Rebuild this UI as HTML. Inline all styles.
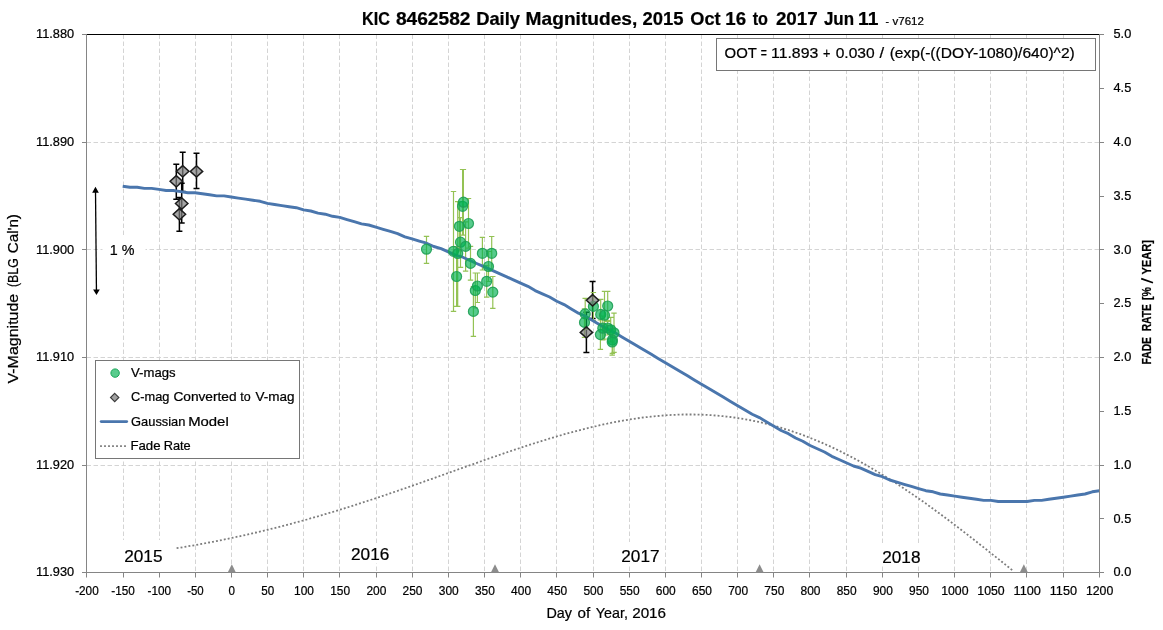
<!DOCTYPE html><html><head><meta charset="utf-8"><style>html,body{margin:0;padding:0;background:#fff}body{width:1163px;height:630px;overflow:hidden}svg{will-change:transform}text{stroke:#000;stroke-width:.22px}</style></head><body><svg width="1163" height="630" viewBox="0 0 1163 630" style="display:block;font-family:'Liberation Sans',sans-serif">
<rect width="1163" height="630" fill="#fff"/>
<path d="M123.50 34.5V572.5M159.50 34.5V572.5M195.50 34.5V572.5M231.50 34.5V572.5M267.50 34.5V572.5M303.50 34.5V572.5M339.50 34.5V572.5M376.50 34.5V572.5M412.50 34.5V572.5M448.50 34.5V572.5M484.50 34.5V572.5M520.50 34.5V572.5M556.50 34.5V572.5M593.50 34.5V572.5M629.50 34.5V572.5M665.50 34.5V572.5M701.50 34.5V572.5M737.50 34.5V572.5M773.50 34.5V572.5M809.50 34.5V572.5M846.50 34.5V572.5M882.50 34.5V572.5M918.50 34.5V572.5M954.50 34.5V572.5M990.50 34.5V572.5M1026.50 34.5V572.5M1063.50 34.5V572.5M86.5 142.50H1099.5M86.5 249.50H1099.5M86.5 357.50H1099.5M86.5 465.50H1099.5" stroke="#d4d4d4" stroke-width="1" stroke-dasharray="4.5 2.5" fill="none"/>
<path d="M176.6 548.2 L180.2 547.7 L183.8 547.0 L187.4 546.4 L191.1 545.8 L194.7 545.2 L198.3 544.5 L201.9 543.8 L205.5 543.2 L209.1 542.5 L212.8 541.8 L216.4 541.1 L220.0 540.4 L223.6 539.6 L227.2 538.9 L230.9 538.1 L234.5 537.3 L238.1 536.6 L241.7 535.8 L245.3 535.0 L248.9 534.2 L252.6 533.3 L256.2 532.5 L259.8 531.6 L263.4 530.8 L267.0 529.9 L270.6 529.0 L274.3 528.1 L277.9 527.2 L281.5 526.3 L285.1 525.3 L288.7 524.4 L292.4 523.4 L296.0 522.4 L299.6 521.5 L303.2 520.5 L306.8 519.5 L310.4 518.4 L314.1 517.4 L317.7 516.4 L321.3 515.3 L324.9 514.2 L328.5 513.2 L332.2 512.1 L335.8 511.0 L339.4 509.9 L343.0 508.8 L346.6 507.6 L350.2 506.5 L353.9 505.4 L357.5 504.2 L361.1 503.0 L364.7 501.9 L368.3 500.7 L371.9 499.5 L375.6 498.3 L379.2 497.1 L382.8 495.9 L386.4 494.7 L390.0 493.4 L393.7 492.2 L397.3 491.0 L400.9 489.7 L404.5 488.5 L408.1 487.2 L411.7 485.9 L415.4 484.7 L419.0 483.4 L422.6 482.1 L426.2 480.8 L429.8 479.6 L433.5 478.3 L437.1 477.0 L440.7 475.7 L444.3 474.4 L447.9 473.1 L451.5 471.8 L455.2 470.5 L458.8 469.2 L462.4 467.9 L466.0 466.7 L469.6 465.4 L473.2 464.1 L476.9 462.8 L480.5 461.5 L484.1 460.2 L487.7 459.0 L491.3 457.7 L495.0 456.5 L498.6 455.2 L502.2 454.0 L505.8 452.7 L509.4 451.5 L513.0 450.3 L516.7 449.1 L520.3 447.9 L523.9 446.7 L527.5 445.5 L531.1 444.3 L534.8 443.2 L538.4 442.0 L542.0 440.9 L545.6 439.8 L549.2 438.7 L552.8 437.6 L556.5 436.5 L560.1 435.5 L563.7 434.4 L567.3 433.4 L570.9 432.4 L574.5 431.5 L578.2 430.5 L581.8 429.6 L585.4 428.7 L589.0 427.8 L592.6 426.9 L596.3 426.1 L599.9 425.2 L603.5 424.4 L607.1 423.7 L610.7 422.9 L614.3 422.2 L618.0 421.5 L621.6 420.9 L625.2 420.2 L628.8 419.6 L632.4 419.1 L636.1 418.5 L639.7 418.0 L643.3 417.5 L646.9 417.1 L650.5 416.7 L654.1 416.3 L657.8 416.0 L661.4 415.6 L665.0 415.4 L668.6 415.1 L672.2 414.9 L675.8 414.8 L679.5 414.6 L683.1 414.5 L686.7 414.5 L690.3 414.5 L693.9 414.5 L697.6 414.6 L701.2 414.7 L704.8 414.8 L708.4 415.0 L712.0 415.2 L715.6 415.5 L719.3 415.8 L722.9 416.2 L726.5 416.6 L730.1 417.0 L733.7 417.5 L737.4 418.0 L741.0 418.6 L744.6 419.2 L748.2 419.8 L751.8 420.5 L755.4 421.3 L759.1 422.0 L762.7 422.9 L766.3 423.8 L769.9 424.7 L773.5 425.6 L777.1 426.6 L780.8 427.7 L784.4 428.8 L788.0 429.9 L791.6 431.1 L795.2 432.4 L798.9 433.6 L802.5 434.9 L806.1 436.3 L809.7 437.7 L813.3 439.2 L816.9 440.6 L820.6 442.2 L824.2 443.8 L827.8 445.4 L831.4 447.0 L835.0 448.7 L838.7 450.5 L842.3 452.3 L845.9 454.1 L849.5 456.0 L853.1 457.9 L856.7 459.8 L860.4 461.8 L864.0 463.8 L867.6 465.9 L871.2 468.0 L874.8 470.1 L878.4 472.3 L882.1 474.5 L885.7 476.7 L889.3 479.0 L892.9 481.3 L896.5 483.6 L900.2 486.0 L903.8 488.4 L907.4 490.8 L911.0 493.2 L914.6 495.7 L918.2 498.2 L921.9 500.8 L925.5 503.3 L929.1 505.9 L932.7 508.5 L936.3 511.2 L940.0 513.8 L943.6 516.5 L947.2 519.2 L950.8 521.9 L954.4 524.7 L958.0 527.4 L961.7 530.2 L965.3 533.0 L968.9 535.8 L972.5 538.6 L976.1 541.4 L979.7 544.3 L983.4 547.1 L987.0 550.0 L990.6 552.9 L994.2 555.7 L997.8 558.6 L1001.5 561.5 L1005.1 564.4 L1008.7 567.3 L1012.3 570.2" stroke="#7c7c7c" stroke-width="1.8" stroke-dasharray="1.9 2.1" fill="none"/>
<path d="M176.3 164.3V199.3M173.3 164.3h6M173.3 199.3h6M182.7 152.2V191.5M179.7 152.2h6M179.7 191.5h6M196.5 153.3V188.4M193.5 153.3h6M193.5 188.4h6M181.7 183.2V223.0M178.7 183.2h6M178.7 223.0h6M179.4 197.5V231.3M176.4 197.5h6M176.4 231.3h6M592.6 281.4V318.5M589.6 281.4h6M589.6 318.5h6M586.4 312.3V352.4M583.4 312.3h6M583.4 352.4h6" stroke="#000" stroke-width="1.5" fill="none"/>
<path d="M426.5 236.4V263.3M423.8 236.4h5.4M423.8 263.3h5.4M453.5 191.5V311.4M450.8 191.5h5.4M450.8 311.4h5.4M457.7 201.6V306.3M455.0 201.6h5.4M455.0 306.3h5.4M456.6 246.7V306.3M453.9 246.7h5.4M453.9 306.3h5.4M459.4 201.6V251.0M456.7 201.6h5.4M456.7 251.0h5.4M460.5 217.6V267.3M457.8 217.6h5.4M457.8 267.3h5.4M462.6 169.5V235.2M459.9 169.5h5.4M459.9 235.2h5.4M463.4 169.5V235.2M460.7 169.5h5.4M460.7 235.2h5.4M465.6 221.8V271.1M462.9 221.8h5.4M462.9 271.1h5.4M468.5 198.5V248.2M465.8 198.5h5.4M465.8 248.2h5.4M470.5 246.3V280.2M467.8 246.3h5.4M467.8 280.2h5.4M473.4 286.5V336.3M470.7 286.5h5.4M470.7 336.3h5.4M475.3 273.0V308.0M472.6 273.0h5.4M472.6 308.0h5.4M477.4 273.0V302.5M474.7 273.0h5.4M474.7 302.5h5.4M482.4 237.3V270.0M479.7 237.3h5.4M479.7 270.0h5.4M486.7 265.5V297.1M484.0 265.5h5.4M484.0 297.1h5.4M488.5 251.5V281.5M485.8 251.5h5.4M485.8 281.5h5.4M491.7 236.5V270.5M489.0 236.5h5.4M489.0 270.5h5.4M492.8 276.5V308.3M490.1 276.5h5.4M490.1 308.3h5.4M585.2 298.3V329.5M582.5 298.3h5.4M582.5 329.5h5.4M584.5 308.8V337.3M581.8 308.8h5.4M581.8 337.3h5.4M593.4 292.5V320.5M590.7 292.5h5.4M590.7 320.5h5.4M607.7 291.3V320.7M605.0 291.3h5.4M605.0 320.7h5.4M600.7 299.3V329.5M598.0 299.3h5.4M598.0 329.5h5.4M604.5 291.3V339.0M601.8 291.3h5.4M601.8 339.0h5.4M600.4 320.0V349.3M597.7 320.0h5.4M597.7 349.3h5.4M602.8 316.0V340.0M600.1 316.0h5.4M600.1 340.0h5.4M607.6 321.4V335.0M604.9 321.4h5.4M604.9 335.0h5.4M610.7 317.4V342.0M608.0 317.4h5.4M608.0 342.0h5.4M614.0 313.2V352.4M611.3 313.2h5.4M611.3 352.4h5.4M612.4 326.0V353.3M609.7 326.0h5.4M609.7 353.3h5.4M612.2 329.0V355.2M609.5 329.0h5.4M609.5 355.2h5.4" stroke="#94c254" stroke-width="1.2" fill="none"/>
<path d="M122.7 186.2 L129.9 187.3 L137.2 187.3 L144.4 188.4 L151.6 188.4 L158.9 189.4 L166.1 190.5 L173.3 190.5 L180.6 191.6 L187.8 192.7 L195.0 192.7 L202.3 193.7 L209.5 194.8 L216.7 195.9 L224.0 195.9 L231.2 197.0 L238.4 198.1 L245.7 199.1 L252.9 200.2 L260.2 201.3 L267.4 203.4 L274.6 204.5 L281.9 205.6 L289.1 206.7 L296.3 207.7 L303.6 209.9 L310.8 211.0 L318.0 213.1 L325.3 214.2 L332.5 216.3 L339.8 217.4 L347.0 219.6 L354.2 221.7 L361.5 223.9 L368.7 225.0 L375.9 227.1 L383.2 229.3 L390.4 231.4 L397.6 233.6 L404.9 236.8 L412.1 238.9 L419.3 241.1 L426.6 243.2 L433.8 246.5 L441.1 248.6 L448.3 251.9 L455.5 255.1 L462.8 257.2 L470.0 260.5 L477.2 263.7 L484.5 266.9 L491.7 270.1 L498.9 273.4 L506.2 276.6 L513.4 279.8 L520.6 283.1 L527.9 286.3 L535.1 290.6 L542.4 293.8 L549.6 297.0 L556.8 301.3 L564.1 304.6 L571.3 308.9 L578.5 313.2 L585.8 316.4 L593.0 320.7 L600.2 325.0 L607.5 329.3 L614.7 332.6 L621.9 336.9 L629.2 341.2 L636.4 345.5 L643.6 349.8 L650.9 354.1 L658.1 358.4 L665.4 362.7 L672.6 367.0 L679.8 371.3 L687.1 375.6 L694.3 379.9 L701.5 384.2 L708.8 388.5 L716.0 392.8 L723.2 397.1 L730.5 401.4 L737.7 405.7 L745.0 410.0 L752.2 414.3 L759.4 417.6 L766.7 421.9 L773.9 426.2 L781.1 430.5 L788.4 433.7 L795.6 438.0 L802.8 441.2 L810.1 445.5 L817.3 448.8 L824.5 452.0 L831.8 456.3 L839.0 459.5 L846.2 462.7 L853.5 466.0 L860.7 468.1 L868.0 471.4 L875.2 474.6 L882.4 476.7 L889.7 480.0 L896.9 482.1 L904.1 484.3 L911.4 486.4 L918.6 488.6 L925.8 490.7 L933.1 491.8 L940.3 494.0 L947.5 495.0 L954.8 496.1 L962.0 497.2 L969.3 498.3 L976.5 499.3 L983.7 500.4 L991.0 500.4 L998.2 501.5 L1005.4 501.5 L1012.7 501.5 L1019.9 501.5 L1027.1 501.5 L1034.4 500.4 L1041.6 500.4 L1048.8 499.3 L1056.1 498.3 L1063.3 497.2 L1070.6 496.1 L1077.8 495.0 L1085.0 494.0 L1092.3 491.8 L1099.5 490.7" stroke="#4a76ad" stroke-width="2.9" fill="none" stroke-linejoin="round"/>
<circle cx="426.5" cy="249.2" r="5.0" fill="#00b050" fill-opacity="0.66" stroke="#1e9e55" stroke-opacity="0.9" stroke-width="1.2"/>
<circle cx="453.5" cy="251.3" r="5.0" fill="#00b050" fill-opacity="0.66" stroke="#1e9e55" stroke-opacity="0.9" stroke-width="1.2"/>
<circle cx="457.7" cy="253.5" r="5.0" fill="#00b050" fill-opacity="0.66" stroke="#1e9e55" stroke-opacity="0.9" stroke-width="1.2"/>
<circle cx="456.6" cy="276.5" r="5.0" fill="#00b050" fill-opacity="0.66" stroke="#1e9e55" stroke-opacity="0.9" stroke-width="1.2"/>
<circle cx="459.4" cy="226.3" r="5.0" fill="#00b050" fill-opacity="0.66" stroke="#1e9e55" stroke-opacity="0.9" stroke-width="1.2"/>
<circle cx="460.5" cy="242.2" r="5.0" fill="#00b050" fill-opacity="0.66" stroke="#1e9e55" stroke-opacity="0.9" stroke-width="1.2"/>
<circle cx="462.6" cy="206.3" r="5.0" fill="#00b050" fill-opacity="0.66" stroke="#1e9e55" stroke-opacity="0.9" stroke-width="1.2"/>
<circle cx="463.4" cy="202.2" r="5.0" fill="#00b050" fill-opacity="0.66" stroke="#1e9e55" stroke-opacity="0.9" stroke-width="1.2"/>
<circle cx="465.6" cy="246.4" r="5.0" fill="#00b050" fill-opacity="0.66" stroke="#1e9e55" stroke-opacity="0.9" stroke-width="1.2"/>
<circle cx="468.5" cy="223.5" r="5.0" fill="#00b050" fill-opacity="0.66" stroke="#1e9e55" stroke-opacity="0.9" stroke-width="1.2"/>
<circle cx="470.5" cy="263.4" r="5.0" fill="#00b050" fill-opacity="0.66" stroke="#1e9e55" stroke-opacity="0.9" stroke-width="1.2"/>
<circle cx="473.4" cy="311.4" r="5.0" fill="#00b050" fill-opacity="0.66" stroke="#1e9e55" stroke-opacity="0.9" stroke-width="1.2"/>
<circle cx="475.3" cy="290.5" r="5.0" fill="#00b050" fill-opacity="0.66" stroke="#1e9e55" stroke-opacity="0.9" stroke-width="1.2"/>
<circle cx="477.4" cy="286.0" r="5.0" fill="#00b050" fill-opacity="0.66" stroke="#1e9e55" stroke-opacity="0.9" stroke-width="1.2"/>
<circle cx="482.4" cy="253.3" r="5.0" fill="#00b050" fill-opacity="0.66" stroke="#1e9e55" stroke-opacity="0.9" stroke-width="1.2"/>
<circle cx="486.7" cy="281.3" r="5.0" fill="#00b050" fill-opacity="0.66" stroke="#1e9e55" stroke-opacity="0.9" stroke-width="1.2"/>
<circle cx="488.5" cy="266.5" r="5.0" fill="#00b050" fill-opacity="0.66" stroke="#1e9e55" stroke-opacity="0.9" stroke-width="1.2"/>
<circle cx="491.7" cy="253.3" r="5.0" fill="#00b050" fill-opacity="0.66" stroke="#1e9e55" stroke-opacity="0.9" stroke-width="1.2"/>
<circle cx="492.8" cy="292.1" r="5.0" fill="#00b050" fill-opacity="0.66" stroke="#1e9e55" stroke-opacity="0.9" stroke-width="1.2"/>
<circle cx="585.2" cy="313.9" r="5.0" fill="#00b050" fill-opacity="0.66" stroke="#1e9e55" stroke-opacity="0.9" stroke-width="1.2"/>
<circle cx="584.5" cy="322.4" r="5.0" fill="#00b050" fill-opacity="0.66" stroke="#1e9e55" stroke-opacity="0.9" stroke-width="1.2"/>
<circle cx="593.4" cy="306.4" r="5.0" fill="#00b050" fill-opacity="0.66" stroke="#1e9e55" stroke-opacity="0.9" stroke-width="1.2"/>
<circle cx="607.7" cy="306.0" r="5.0" fill="#00b050" fill-opacity="0.66" stroke="#1e9e55" stroke-opacity="0.9" stroke-width="1.2"/>
<circle cx="600.7" cy="314.4" r="5.0" fill="#00b050" fill-opacity="0.66" stroke="#1e9e55" stroke-opacity="0.9" stroke-width="1.2"/>
<circle cx="604.5" cy="315.2" r="5.0" fill="#00b050" fill-opacity="0.66" stroke="#1e9e55" stroke-opacity="0.9" stroke-width="1.2"/>
<circle cx="600.4" cy="334.6" r="5.0" fill="#00b050" fill-opacity="0.66" stroke="#1e9e55" stroke-opacity="0.9" stroke-width="1.2"/>
<circle cx="602.8" cy="328.2" r="5.0" fill="#00b050" fill-opacity="0.66" stroke="#1e9e55" stroke-opacity="0.9" stroke-width="1.2"/>
<circle cx="607.6" cy="328.0" r="5.0" fill="#00b050" fill-opacity="0.66" stroke="#1e9e55" stroke-opacity="0.9" stroke-width="1.2"/>
<circle cx="610.7" cy="329.8" r="5.0" fill="#00b050" fill-opacity="0.66" stroke="#1e9e55" stroke-opacity="0.9" stroke-width="1.2"/>
<circle cx="614.0" cy="332.8" r="5.0" fill="#00b050" fill-opacity="0.66" stroke="#1e9e55" stroke-opacity="0.9" stroke-width="1.2"/>
<circle cx="612.4" cy="340.0" r="5.0" fill="#00b050" fill-opacity="0.66" stroke="#1e9e55" stroke-opacity="0.9" stroke-width="1.2"/>
<circle cx="612.2" cy="342.0" r="5.0" fill="#00b050" fill-opacity="0.66" stroke="#1e9e55" stroke-opacity="0.9" stroke-width="1.2"/>
<path d="M176.3 175.6l6.2 5.7l-6.2 5.7l-6.2 -5.7z" fill="#7f7f7f" fill-opacity="0.7" stroke="#1c1c1c" stroke-width="1.5"/>
<path d="M182.7 165.6l6.2 5.7l-6.2 5.7l-6.2 -5.7z" fill="#7f7f7f" fill-opacity="0.7" stroke="#1c1c1c" stroke-width="1.5"/>
<path d="M196.5 165.7l6.2 5.7l-6.2 5.7l-6.2 -5.7z" fill="#7f7f7f" fill-opacity="0.7" stroke="#1c1c1c" stroke-width="1.5"/>
<path d="M181.7 197.8l6.2 5.7l-6.2 5.7l-6.2 -5.7z" fill="#7f7f7f" fill-opacity="0.7" stroke="#1c1c1c" stroke-width="1.5"/>
<path d="M179.4 208.6l6.2 5.7l-6.2 5.7l-6.2 -5.7z" fill="#7f7f7f" fill-opacity="0.7" stroke="#1c1c1c" stroke-width="1.5"/>
<path d="M592.6 294.6l6.2 5.7l-6.2 5.7l-6.2 -5.7z" fill="#7f7f7f" fill-opacity="0.7" stroke="#1c1c1c" stroke-width="1.5"/>
<path d="M586.4 326.7l6.2 5.7l-6.2 5.7l-6.2 -5.7z" fill="#7f7f7f" fill-opacity="0.7" stroke="#1c1c1c" stroke-width="1.5"/>
<path d="M86.5 34.5H1099.5" stroke="#000" stroke-width="1"/>
<path d="M86.5 34.5V577.0M1099.5 34.5V572.5M82.0 572.5H1099.5M82.0 34.5H86.5M82.0 142.5H86.5M82.0 249.5H86.5M82.0 357.5H86.5M82.0 465.5H86.5M82.0 572.5H86.5M1099.5 34.5H1104.0M1099.5 88.5H1104.0M1099.5 142.5H1104.0M1099.5 196.5H1104.0M1099.5 249.5H1104.0M1099.5 303.5H1104.0M1099.5 357.5H1104.0M1099.5 411.5H1104.0M1099.5 465.5H1104.0M1099.5 518.5H1104.0M1099.5 572.5H1104.0M86.50 572.5V577.5M123.50 572.5V577.5M159.50 572.5V577.5M195.50 572.5V577.5M231.50 572.5V577.5M267.50 572.5V577.5M303.50 572.5V577.5M339.50 572.5V577.5M376.50 572.5V577.5M412.50 572.5V577.5M448.50 572.5V577.5M484.50 572.5V577.5M520.50 572.5V577.5M556.50 572.5V577.5M593.50 572.5V577.5M629.50 572.5V577.5M665.50 572.5V577.5M701.50 572.5V577.5M737.50 572.5V577.5M773.50 572.5V577.5M809.50 572.5V577.5M846.50 572.5V577.5M882.50 572.5V577.5M918.50 572.5V577.5M954.50 572.5V577.5M990.50 572.5V577.5M1026.50 572.5V577.5M1063.50 572.5V577.5M1099.50 572.5V577.5" stroke="#858585" stroke-width="1" fill="none"/>
<path d="M231.80 564.3l4.1 8.2h-8.2z" fill="#8c8c8c"/>
<path d="M495.00 564.3l4.1 8.2h-8.2z" fill="#8c8c8c"/>
<path d="M759.60 564.3l4.1 8.2h-8.2z" fill="#8c8c8c"/>
<path d="M1023.85 564.3l4.1 8.2h-8.2z" fill="#8c8c8c"/>
<text x="361.99" y="24.8" font-size="17.7" text-anchor="start" font-weight="bold" textLength="27.81" lengthAdjust="spacingAndGlyphs" >KIC</text>
<text x="395.90" y="24.8" font-size="17.7" text-anchor="start" font-weight="bold" textLength="74.62" lengthAdjust="spacingAndGlyphs" >8462582</text>
<text x="476.16" y="24.8" font-size="17.7" text-anchor="start" font-weight="bold" textLength="43.87" lengthAdjust="spacingAndGlyphs" >Daily</text>
<text x="525.62" y="24.8" font-size="17.7" text-anchor="start" font-weight="bold" textLength="111.67" lengthAdjust="spacingAndGlyphs" >Magnitudes,</text>
<text x="642.60" y="24.8" font-size="17.7" text-anchor="start" font-weight="bold" textLength="41.03" lengthAdjust="spacingAndGlyphs" >2015</text>
<text x="690.30" y="24.8" font-size="17.7" text-anchor="start" font-weight="bold" textLength="30.29" lengthAdjust="spacingAndGlyphs" >Oct</text>
<text x="725.34" y="24.8" font-size="17.7" text-anchor="start" font-weight="bold" textLength="20.78" lengthAdjust="spacingAndGlyphs" >16</text>
<text x="752.70" y="24.8" font-size="17.7" text-anchor="start" font-weight="bold" textLength="15.32" lengthAdjust="spacingAndGlyphs" >to</text>
<text x="775.90" y="24.8" font-size="17.7" text-anchor="start" font-weight="bold" textLength="41.93" lengthAdjust="spacingAndGlyphs" >2017</text>
<text x="823.90" y="24.8" font-size="17.7" text-anchor="start" font-weight="bold" textLength="30.17" lengthAdjust="spacingAndGlyphs" >Jun</text>
<text x="858.11" y="24.8" font-size="17.7" text-anchor="start" font-weight="bold" textLength="20.31" lengthAdjust="spacingAndGlyphs" >11</text>
<text x="885.50" y="24.8" font-size="11" text-anchor="start" textLength="3.48" lengthAdjust="spacingAndGlyphs" >-</text>
<text x="892.50" y="24.8" font-size="11" text-anchor="start" textLength="31.32" lengthAdjust="spacingAndGlyphs" >v7612</text>
<text x="36.00" y="38.4" font-size="12.5" text-anchor="start" textLength="38.15" lengthAdjust="spacingAndGlyphs" >11.880</text>
<text x="36.00" y="146.0" font-size="12.5" text-anchor="start" textLength="38.15" lengthAdjust="spacingAndGlyphs" >11.890</text>
<text x="36.00" y="253.6" font-size="12.5" text-anchor="start" textLength="38.15" lengthAdjust="spacingAndGlyphs" >11.900</text>
<text x="36.00" y="361.2" font-size="12.5" text-anchor="start" textLength="38.15" lengthAdjust="spacingAndGlyphs" >11.910</text>
<text x="36.00" y="468.8" font-size="12.5" text-anchor="start" textLength="38.15" lengthAdjust="spacingAndGlyphs" >11.920</text>
<text x="36.00" y="576.4" font-size="12.5" text-anchor="start" textLength="38.15" lengthAdjust="spacingAndGlyphs" >11.930</text>
<text x="1113.50" y="38.4" font-size="12.5" text-anchor="start" textLength="17.75" lengthAdjust="spacingAndGlyphs" >5.0</text>
<text x="1113.50" y="92.2" font-size="12.5" text-anchor="start" textLength="17.75" lengthAdjust="spacingAndGlyphs" >4.5</text>
<text x="1113.50" y="146.0" font-size="12.5" text-anchor="start" textLength="17.75" lengthAdjust="spacingAndGlyphs" >4.0</text>
<text x="1113.50" y="199.8" font-size="12.5" text-anchor="start" textLength="17.75" lengthAdjust="spacingAndGlyphs" >3.5</text>
<text x="1113.50" y="253.6" font-size="12.5" text-anchor="start" textLength="17.75" lengthAdjust="spacingAndGlyphs" >3.0</text>
<text x="1113.50" y="307.4" font-size="12.5" text-anchor="start" textLength="17.75" lengthAdjust="spacingAndGlyphs" >2.5</text>
<text x="1113.50" y="361.2" font-size="12.5" text-anchor="start" textLength="17.75" lengthAdjust="spacingAndGlyphs" >2.0</text>
<text x="1113.50" y="415.0" font-size="12.5" text-anchor="start" textLength="17.75" lengthAdjust="spacingAndGlyphs" >1.5</text>
<text x="1113.50" y="468.8" font-size="12.5" text-anchor="start" textLength="17.75" lengthAdjust="spacingAndGlyphs" >1.0</text>
<text x="1113.50" y="522.6" font-size="12.5" text-anchor="start" textLength="17.75" lengthAdjust="spacingAndGlyphs" >0.5</text>
<text x="1113.50" y="576.4" font-size="12.5" text-anchor="start" textLength="17.75" lengthAdjust="spacingAndGlyphs" >0.0</text>
<text x="75.15" y="594.8" font-size="12.5" text-anchor="start" textLength="23.55" lengthAdjust="spacingAndGlyphs" >-200</text>
<text x="111.33" y="594.8" font-size="12.5" text-anchor="start" textLength="23.55" lengthAdjust="spacingAndGlyphs" >-150</text>
<text x="147.51" y="594.8" font-size="12.5" text-anchor="start" textLength="23.55" lengthAdjust="spacingAndGlyphs" >-100</text>
<text x="187.19" y="594.8" font-size="12.5" text-anchor="start" textLength="16.56" lengthAdjust="spacingAndGlyphs" >-50</text>
<text x="228.41" y="594.8" font-size="12.5" text-anchor="start" textLength="6.46" lengthAdjust="spacingAndGlyphs" >0</text>
<text x="261.34" y="594.8" font-size="12.5" text-anchor="start" textLength="12.96" lengthAdjust="spacingAndGlyphs" >50</text>
<text x="294.02" y="594.8" font-size="12.5" text-anchor="start" textLength="19.95" lengthAdjust="spacingAndGlyphs" >100</text>
<text x="330.20" y="594.8" font-size="12.5" text-anchor="start" textLength="19.95" lengthAdjust="spacingAndGlyphs" >150</text>
<text x="366.38" y="594.8" font-size="12.5" text-anchor="start" textLength="19.95" lengthAdjust="spacingAndGlyphs" >200</text>
<text x="402.56" y="594.8" font-size="12.5" text-anchor="start" textLength="19.95" lengthAdjust="spacingAndGlyphs" >250</text>
<text x="438.74" y="594.8" font-size="12.5" text-anchor="start" textLength="19.95" lengthAdjust="spacingAndGlyphs" >300</text>
<text x="474.91" y="594.8" font-size="12.5" text-anchor="start" textLength="19.95" lengthAdjust="spacingAndGlyphs" >350</text>
<text x="511.09" y="594.8" font-size="12.5" text-anchor="start" textLength="19.95" lengthAdjust="spacingAndGlyphs" >400</text>
<text x="547.27" y="594.8" font-size="12.5" text-anchor="start" textLength="19.95" lengthAdjust="spacingAndGlyphs" >450</text>
<text x="583.45" y="594.8" font-size="12.5" text-anchor="start" textLength="19.95" lengthAdjust="spacingAndGlyphs" >500</text>
<text x="619.63" y="594.8" font-size="12.5" text-anchor="start" textLength="19.95" lengthAdjust="spacingAndGlyphs" >550</text>
<text x="655.81" y="594.8" font-size="12.5" text-anchor="start" textLength="19.95" lengthAdjust="spacingAndGlyphs" >600</text>
<text x="691.99" y="594.8" font-size="12.5" text-anchor="start" textLength="19.95" lengthAdjust="spacingAndGlyphs" >650</text>
<text x="728.16" y="594.8" font-size="12.5" text-anchor="start" textLength="19.95" lengthAdjust="spacingAndGlyphs" >700</text>
<text x="764.34" y="594.8" font-size="12.5" text-anchor="start" textLength="19.95" lengthAdjust="spacingAndGlyphs" >750</text>
<text x="800.52" y="594.8" font-size="12.5" text-anchor="start" textLength="19.95" lengthAdjust="spacingAndGlyphs" >800</text>
<text x="836.70" y="594.8" font-size="12.5" text-anchor="start" textLength="19.95" lengthAdjust="spacingAndGlyphs" >850</text>
<text x="872.88" y="594.8" font-size="12.5" text-anchor="start" textLength="19.95" lengthAdjust="spacingAndGlyphs" >900</text>
<text x="909.06" y="594.8" font-size="12.5" text-anchor="start" textLength="19.95" lengthAdjust="spacingAndGlyphs" >950</text>
<text x="941.19" y="594.8" font-size="12.5" text-anchor="start" textLength="27.35" lengthAdjust="spacingAndGlyphs" >1000</text>
<text x="977.36" y="594.8" font-size="12.5" text-anchor="start" textLength="27.35" lengthAdjust="spacingAndGlyphs" >1050</text>
<text x="1013.54" y="594.8" font-size="12.5" text-anchor="start" textLength="27.35" lengthAdjust="spacingAndGlyphs" >1100</text>
<text x="1049.72" y="594.8" font-size="12.5" text-anchor="start" textLength="27.35" lengthAdjust="spacingAndGlyphs" >1150</text>
<text x="1085.90" y="594.8" font-size="12.5" text-anchor="start" textLength="27.35" lengthAdjust="spacingAndGlyphs" >1200</text>
<text x="546.53" y="618.4" font-size="14.8" text-anchor="start" textLength="25.49" lengthAdjust="spacingAndGlyphs" >Day</text>
<text x="577.60" y="618.4" font-size="14.8" text-anchor="start" textLength="12.69" lengthAdjust="spacingAndGlyphs" >of</text>
<text x="595.80" y="618.4" font-size="14.8" text-anchor="start" textLength="32.07" lengthAdjust="spacingAndGlyphs" >Year,</text>
<text x="632.20" y="618.4" font-size="14.8" text-anchor="start" textLength="33.84" lengthAdjust="spacingAndGlyphs" >2016</text>
<g transform="translate(17.8,383.50) rotate(-90)">
<text x="0.00" y="0.0" font-size="14.8" text-anchor="start" textLength="89.75" lengthAdjust="spacingAndGlyphs" >V-Magnitude</text>
</g>
<g transform="translate(17.8,287.00) rotate(-90)">
<text x="0.00" y="0.0" font-size="14.8" text-anchor="start" textLength="28.72" lengthAdjust="spacingAndGlyphs" >(BLG</text>
</g>
<g transform="translate(17.8,253.30) rotate(-90)">
<text x="0.00" y="0.0" font-size="14.8" text-anchor="start" textLength="39.23" lengthAdjust="spacingAndGlyphs" >Cal'n)</text>
</g>
<g transform="translate(1151.3,364.60) rotate(-90)">
<text x="0.00" y="0.0" font-size="12.6" text-anchor="start" font-weight="bold" textLength="27.63" lengthAdjust="spacingAndGlyphs" >FADE</text>
</g>
<g transform="translate(1151.3,331.30) rotate(-90)">
<text x="0.00" y="0.0" font-size="12.6" text-anchor="start" font-weight="bold" textLength="27.13" lengthAdjust="spacingAndGlyphs" >RATE</text>
</g>
<g transform="translate(1151.3,300.10) rotate(-90)">
<text x="0.00" y="0.0" font-size="12.6" text-anchor="start" font-weight="bold" textLength="12.87" lengthAdjust="spacingAndGlyphs" >[%</text>
</g>
<g transform="translate(1151.3,274.50) rotate(-90)">
<text x="0.00" y="0.0" font-size="12.6" text-anchor="start" font-weight="bold" textLength="34.37" lengthAdjust="spacingAndGlyphs" >YEAR]</text>
</g>
<path d="M1153.0 282.7L1141.2 278.6" stroke="#000" stroke-width="1.7"/>
<rect x="115.0" y="540.0" width="55.0" height="32.0" fill="#fff"/>
<text x="124.20" y="562.2" font-size="17.4" text-anchor="start" textLength="38.26" lengthAdjust="spacingAndGlyphs" >2015</text>
<rect x="345.0" y="543.0" width="51.0" height="20.5" fill="#fff"/>
<text x="351.00" y="559.7" font-size="17.4" text-anchor="start" textLength="38.26" lengthAdjust="spacingAndGlyphs" >2016</text>
<rect x="615.0" y="542.0" width="49.0" height="21.6" fill="#fff"/>
<text x="621.30" y="561.6" font-size="17.4" text-anchor="start" textLength="38.26" lengthAdjust="spacingAndGlyphs" >2017</text>
<rect x="876.0" y="543.0" width="50.0" height="22.0" fill="#fff"/>
<text x="882.20" y="562.7" font-size="17.4" text-anchor="start" textLength="38.26" lengthAdjust="spacingAndGlyphs" >2018</text>
<rect x="102.5" y="237" width="43" height="22" fill="#fff"/>
<text x="109.72" y="254.6" font-size="14.6" text-anchor="start" textLength="24.66" lengthAdjust="spacingAndGlyphs" >1 %</text>
<path d="M95.5 190L96.45 291" stroke="#000" stroke-width="1.3"/>
<path d="M95.46 186.8l3.4 5.9h-6.7zM96.48 294.9l3.3 -5.5h-6.7z" fill="#000"/>
<rect x="95.5" y="360.5" width="204" height="98" fill="#fff" stroke="#767676" stroke-width="1"/>
<circle cx="115.1" cy="373.1" r="4.2" fill="#00b050" fill-opacity="0.65" stroke="#14a556" stroke-width="1"/>
<text x="131.10" y="376.7" font-size="12.4" text-anchor="start" textLength="44.51" lengthAdjust="spacingAndGlyphs" >V-mags</text>
<path d="M114.7 393.3l4.2 4.2l-4.2 4.2l-4.2 -4.2z" fill="#a0a0a0" stroke="#3a3a3a" stroke-width="1.1"/>
<text x="131.10" y="401.4" font-size="12.4" text-anchor="start" textLength="38.39" lengthAdjust="spacingAndGlyphs" >C-mag</text>
<text x="173.40" y="401.4" font-size="12.4" text-anchor="start" textLength="63.18" lengthAdjust="spacingAndGlyphs" >Converted</text>
<text x="240.20" y="401.4" font-size="12.4" text-anchor="start" textLength="10.39" lengthAdjust="spacingAndGlyphs" >to</text>
<text x="255.50" y="401.4" font-size="12.4" text-anchor="start" textLength="38.98" lengthAdjust="spacingAndGlyphs" >V-mag</text>
<path d="M101.2 421.6H126.7" stroke="#4a76ad" stroke-width="2.9" stroke-linecap="round"/>
<text x="131.10" y="425.7" font-size="12.4" text-anchor="start" textLength="54.29" lengthAdjust="spacingAndGlyphs" >Gaussian</text>
<text x="188.20" y="425.7" font-size="12.4" text-anchor="start" textLength="40.50" lengthAdjust="spacingAndGlyphs" >Model</text>
<path d="M100 446.1H126.5" stroke="#888" stroke-width="1.8" stroke-dasharray="2 2"/>
<text x="130.43" y="449.5" font-size="12.4" text-anchor="start" textLength="30.15" lengthAdjust="spacingAndGlyphs" >Fade</text>
<text x="163.67" y="449.5" font-size="12.4" text-anchor="start" textLength="27.02" lengthAdjust="spacingAndGlyphs" >Rate</text>
<rect x="716.5" y="38.5" width="379" height="32" fill="#fff" stroke="#767676" stroke-width="1"/>
<text x="724.60" y="58.2" font-size="15.2" text-anchor="start" textLength="32.27" lengthAdjust="spacingAndGlyphs" >OOT</text>
<text x="760.70" y="58.2" font-size="15.2" text-anchor="start" textLength="6.11" lengthAdjust="spacingAndGlyphs" >=</text>
<text x="771.06" y="58.2" font-size="15.2" text-anchor="start" textLength="47.21" lengthAdjust="spacingAndGlyphs" >11.893</text>
<text x="823.00" y="58.2" font-size="15.2" text-anchor="start" textLength="7.39" lengthAdjust="spacingAndGlyphs" >+</text>
<text x="835.70" y="58.2" font-size="15.2" text-anchor="start" textLength="38.96" lengthAdjust="spacingAndGlyphs" >0.030</text>
<text x="879.40" y="58.2" font-size="15.2" text-anchor="start" textLength="4.64" lengthAdjust="spacingAndGlyphs" >/</text>
<text x="889.70" y="58.2" font-size="15.2" text-anchor="start" textLength="185.06" lengthAdjust="spacingAndGlyphs" >(exp(-((DOY-1080)/640)^2)</text>
</svg></body></html>
